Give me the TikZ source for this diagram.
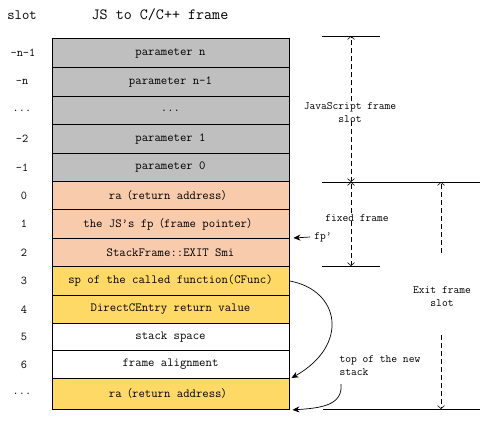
\documentclass[tikz,border=0pt]{standalone}
\usepackage{fontspec}
\setmainfont{Latin Modern Mono}
\newfontfamily\cjkf{Noto Sans CJK SC}
\usetikzlibrary{arrows.meta}
\definecolor{cgray}{HTML}{BFBFBF}
\definecolor{cpeach}{HTML}{F8CBAD}
\definecolor{cyell}{HTML}{FFD966}
\newcommand{\flp}{{\cjkf\fontsize{10.5}{10}\selectfont （}}
\newcommand{\frp}{{\cjkf\fontsize{10.5}{10}\selectfont ）}}
\tikzset{
  cell/.style={draw=black, line width=0.9pt, minimum width=237pt, inner sep=0pt,
    font=\fontsize{12.4}{13}\selectfont, anchor=north},
  slotlab/.style={font=\fontsize{12}{13}\selectfont},
  sidelab/.style={font=\fontsize{11.2}{13}\selectfont, align=center},
  dim/.style={line width=0.6pt, dash pattern=on 5pt off 3pt},
  tipopen/.style={-{Straight Barb[length=3pt,width=7pt]}},
  guide/.style={line width=0.8pt},
  fillarrow/.style={line width=0.7pt, -{Stealth[length=7pt,width=6pt]}}
}
\begin{document}
\begin{tikzpicture}[x=1pt,y=-1pt]
\useasboundingbox (0,0) rectangle (494,420);
% titles
\node[font=\fontsize{14.3}{15}\selectfont] (slothead) at (22,15) {slot};
\node[font=\fontsize{15.6}{16}\selectfont] (title) at (160,15) {JS to C/C++ frame};
% cells
\node[cell, fill=cgray, minimum height=29pt] (p1) at (170.5,38) {parameter n};
\node[cell, fill=cgray, minimum height=29pt] (p2) at (170.5,67) {parameter n-1};
\node[cell, fill=cgray, minimum height=28pt] (p3) at (170.5,96) {...};
\node[cell, fill=cgray, minimum height=29pt] (p4) at (170.5,124) {parameter 1};
\node[cell, fill=cgray, minimum height=28pt] (p5) at (170.5,153) {parameter 0};
\node[cell, fill=cpeach, minimum height=28pt] (f0) at (170.5,181) {ra\flp return address\frp};
\node[cell, fill=cpeach, minimum height=29pt] (f1) at (170.5,209) {the JS’s fp\flp frame pointer\frp};
\node[cell, fill=cpeach, minimum height=28pt] (f2) at (170.5,238) {StackFrame::EXIT Smi};
\node[cell, fill=cyell, minimum height=29pt] (c3) at (170.5,266) {sp of the called function(CFunc)};
\node[cell, fill=cyell, minimum height=28pt] (c4) at (170.5,295) {DirectCEntry return value};
\node[cell, fill=white, minimum height=27pt] (s5) at (170.5,323) {stack space};
\node[cell, fill=white, minimum height=28pt] (s6) at (170.5,350) {frame alignment};
\node[cell, fill=cyell, minimum height=31pt] (ra) at (170.5,378) {ra\flp return address\frp};
% slot labels
\node[slotlab] (l1) at (23,0 |- p1) {-n-1};
\node[slotlab] (l2) at (22,0 |- p2) {-n};
\node[slotlab] (l3) at (22,0 |- p3) {...};
\node[slotlab] (l4) at (22,0 |- p4) {-2};
\node[slotlab] (l5) at (22,0 |- p5) {-1};
\node[slotlab] (l6) at (24,0 |- f0) {0};
\node[slotlab] (l7) at (24,0 |- f1) {1};
\node[slotlab] (l8) at (24,0 |- f2) {2};
\node[slotlab] (l9) at (24,0 |- c3) {3};
\node[slotlab] (l10) at (24,0 |- c4) {4};
\node[slotlab] (l11) at (24,0 |- s5) {5};
\node[slotlab] (l12) at (24,0 |- s6) {6};
\node[slotlab] (l13) at (22,0 |- ra) {...};
% guide lines
\coordinate (t1a) at (322,36); \coordinate (t1b) at (380,36);
\coordinate (m1a) at (322,182); \coordinate (m1b) at (480,182);
\coordinate (b1a) at (322,266); \coordinate (b1b) at (380,266);
\coordinate (b2a) at (323,409); \coordinate (b2b) at (480,409);
\draw[guide] (t1a) -- (t1b);
\draw[guide] (m1a) -- (m1b);
\draw[guide] (b1a) -- (b1b);
\draw[guide] (b2a) -- (b2b);
% JavaScript frame slot
\node[sidelab] (jsf) at (350,113) {JavaScript frame\\slot};
\coordinate (j1) at (351,36); \coordinate (j2) at (351,182);
\draw[dim, tipopen] ([yshift=-2pt]jsf.north -| j1) -- (j1);
\draw[dim, tipopen] ([yshift=6pt]jsf.south -| j1) -- (j2);
% fixed frame
\node[sidelab] (fixf) at (357,218) {fixed frame};
\coordinate (k1) at (351,266);
\draw[dim, tipopen] ([yshift=-2pt]fixf.north -| j2) -- (j2);
\draw[dim, tipopen] ([yshift=4pt]fixf.south -| j2) -- (k1);
% Exit frame slot
\node[sidelab] (exf) at (442,297) {Exit frame\\slot};
\coordinate (e1) at (441,182); \coordinate (e2) at (441,253);
\coordinate (e3) at (441,335); \coordinate (e4) at (441,409);
\draw[dim, tipopen] (e2) -- (e1);
\draw[dim, tipopen] (e3) -- (e4);
% fp'
\node[font=\fontsize{11.2}{12}\selectfont, inner sep=1pt] (fp) at (323,237) {fp’};
\draw[fillarrow] ([xshift=-3pt]fp.west) -- ([xshift=4pt]f2.north east);
% curved arrows
\draw[fillarrow] (c3.east) .. controls (340,290) and (350,345) .. ([xshift=2pt]ra.north east);
\node[sidelab, align=left, anchor=north west] (top) at (336,352) {top of the new\\stack};
\draw[fillarrow] (341,384) .. controls (343,405) and (322,408) .. ([xshift=3pt]ra.south east);
\end{tikzpicture}
\end{document}
